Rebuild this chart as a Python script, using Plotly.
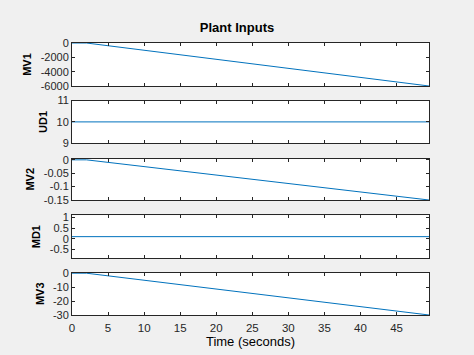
import plotly.graph_objects as go
from plotly.subplots import make_subplots

# ---- data ----
time_s = [0, 2, 49.5]
mv1 = [0, 0, -6000]
ud1 = [10, 10, 10]
mv2 = [0, 0, -0.15]
md1 = [0.1, 0.1, 0.1]
mv3 = [0, 0, -30]

panel_names = ["MV1", "UD1", "MV2", "MD1", "MV3"]
panel_series = [mv1, ud1, mv2, md1, mv3]
y_ranges = [[-6000, 0], [9, 11], [-0.15, 0.005], [-0.9, 1.1], [-30, 0.5]]
y_ticks = [[0, -2000, -4000, -6000], [9, 10, 11], [0, -0.05, -0.1, -0.15],
           [-0.5, 0, 0.5, 1], [0, -10, -20, -30]]
y_ticktext = [["0", "-2000", "-4000", "-6000"], ["9", "10", "11"],
              ["0", "-0.05", "-0.1", "-0.15"], ["-0.5", "0", "0.5", "1"],
              ["0", "-10", "-20", "-30"]]
x_ticks = [0, 5, 10, 15, 20, 25, 30, 35, 40, 45]

W, H = 474, 355
ML, MR, MT, MB = 72, 45, 43, 40
ph = H - MT - MB
# panel pixel extents (top, bottom)
panels_px = [(43, 86), (100.5, 143.3), (158.5, 200), (215.3, 258), (272.5, 315)]

fig = make_subplots(rows=5, cols=1, shared_xaxes=False)

axis_color = "#262626"
font_fam = "Liberation Sans, Arial, sans-serif"

for i, (name, ys) in enumerate(zip(panel_names, panel_series)):
    r = i + 1
    fig.add_trace(go.Scatter(x=time_s, y=ys, mode="lines",
                             line=dict(color="#0072BD", width=1),
                             showlegend=False, hoverinfo="skip"), row=r, col=1)
    top, bot = panels_px[i]
    dom = [(H - MB - bot) / ph, (H - MB - top) / ph]
    fig.update_yaxes(row=r, col=1, domain=dom, range=y_ranges[i], automargin=False,
                     tickvals=y_ticks[i], ticktext=y_ticktext[i],
                     ticks="inside", ticklen=3, tickcolor=axis_color,
                     showline=True, linecolor=axis_color, linewidth=1, mirror="ticks",
                     showgrid=False, zeroline=False,
                     tickfont=dict(family=font_fam, size=11, color=axis_color),
                     title=dict(text="<b>%s</b>" % name, standoff=6,
                                font=dict(family=font_fam, size=11, color="#000000")))
    fig.update_xaxes(row=r, col=1, range=[0, 49.5], tickvals=x_ticks, automargin=False,
                     ticks="inside", ticklen=3, tickcolor=axis_color,
                     showline=True, linecolor=axis_color, linewidth=1, mirror="ticks",
                     showgrid=False, zeroline=False,
                     showticklabels=(r == 5), ticklabelstandoff=2,
                     tickfont=dict(family=font_fam, size=11.5, color=axis_color))

fig.update_xaxes(row=5, col=1,
                 title=dict(text="Time (seconds)", standoff=0,
                            font=dict(family=font_fam, size=13, color="#000000")))

fig.update_layout(
    width=W, height=H,
    margin=dict(l=ML, r=MR, t=MT, b=MB),
    paper_bgcolor="#f0f0f0", plot_bgcolor="#ffffff",
    title=dict(text="<b>Plant Inputs</b>", x=0.5, xanchor="center",
               y=1 - 27 / H, yanchor="middle", automargin=False,
               font=dict(family=font_fam, size=13, color="#000000")),
)

fig.write_html("out.html", config={"displayModeBar": False},
               post_script="document.body.style.margin='0';document.body.style.background='#f0f0f0';")
